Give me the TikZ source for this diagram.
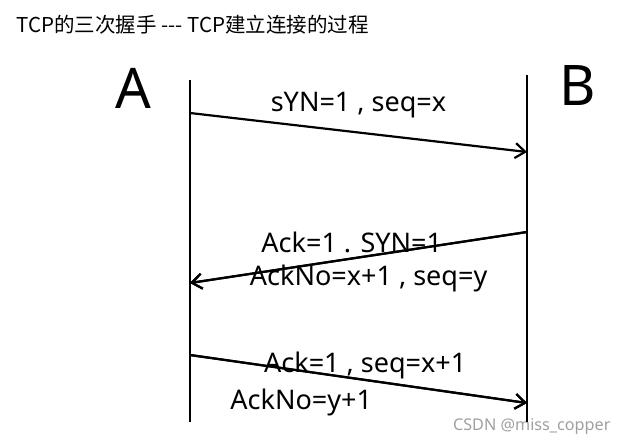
\documentclass[tikz,border=0pt]{standalone}
\usepackage{fontspec}
\setmainfont{Noto Sans}
\newfontfamily\cjk{Noto Sans CJK SC}
\usetikzlibrary{arrows.meta,positioning}
\definecolor{markgray}{RGB}{160,160,160}

\begin{document}
\begin{tikzpicture}[x=1pt,y=-1pt, >={Straight Barb[length=10pt,width=15pt]},
        every edge/.style={draw,line width=2.2pt},
        life/.style={line width=2.2pt},
        hand/.style={font=\fontsize{27}{27}\selectfont,inner sep=1pt},
        host/.style={font=\fontsize{56}{56}\selectfont,inner sep=0pt}]
                \useasboundingbox (0,0) rectangle (629,444);
                \node[anchor=west,font=\cjk\fontsize{20.5}{20.5}\selectfont] (title) at (13,25) {TCP的三次握手 --- TCP建立连接的过程};
                \node[host]  (A) at (133,88)  {A};
                \node[host]  (B) at (578,86)  {B};
                \node[anchor=east,text=markgray,font=\fontsize{16.2}{16.2}\selectfont] (mark) at (614,426) {CSDN @miss\_copper};

                \coordinate (a_top) at (190,80);
                \coordinate (a_bot) at (190,422);
                \coordinate (b_top) at (527,75);
                \coordinate (b_bot) at (527,422);
                \coordinate (a_1)   at (190,113);
                \coordinate (b_1)   at (527,152);
                \coordinate (b_2)   at (527,232);
                \coordinate (a_2)   at (190,283);
                \coordinate (a_3)   at (190,355);
                \coordinate (b_3)   at (527,403);

                \draw[life] (a_top) -- (a_bot);
                \draw[life] (b_top) -- (b_bot);

            \path[->]   (a_1) edge node [hand,above=12pt]              {sYN=1 , seq=x}        (b_1)
                        (b_2) edge node [hand,above=4pt,pos=0.52]      {Ack=1 . SYN=1}        (a_2)
                        (b_2) edge node [hand,below=7pt,pos=0.47]      {AckNo=x+1 , seq=y}    (a_2)
                        (a_3) edge node [hand,above=-1pt,pos=0.52]     {Ack=1 , seq=x+1}      (b_3)
                        (a_3) edge node [hand,below=16pt,pos=0.33]     {AckNo=y+1}            (b_3);
\end{tikzpicture}
\end{document}
